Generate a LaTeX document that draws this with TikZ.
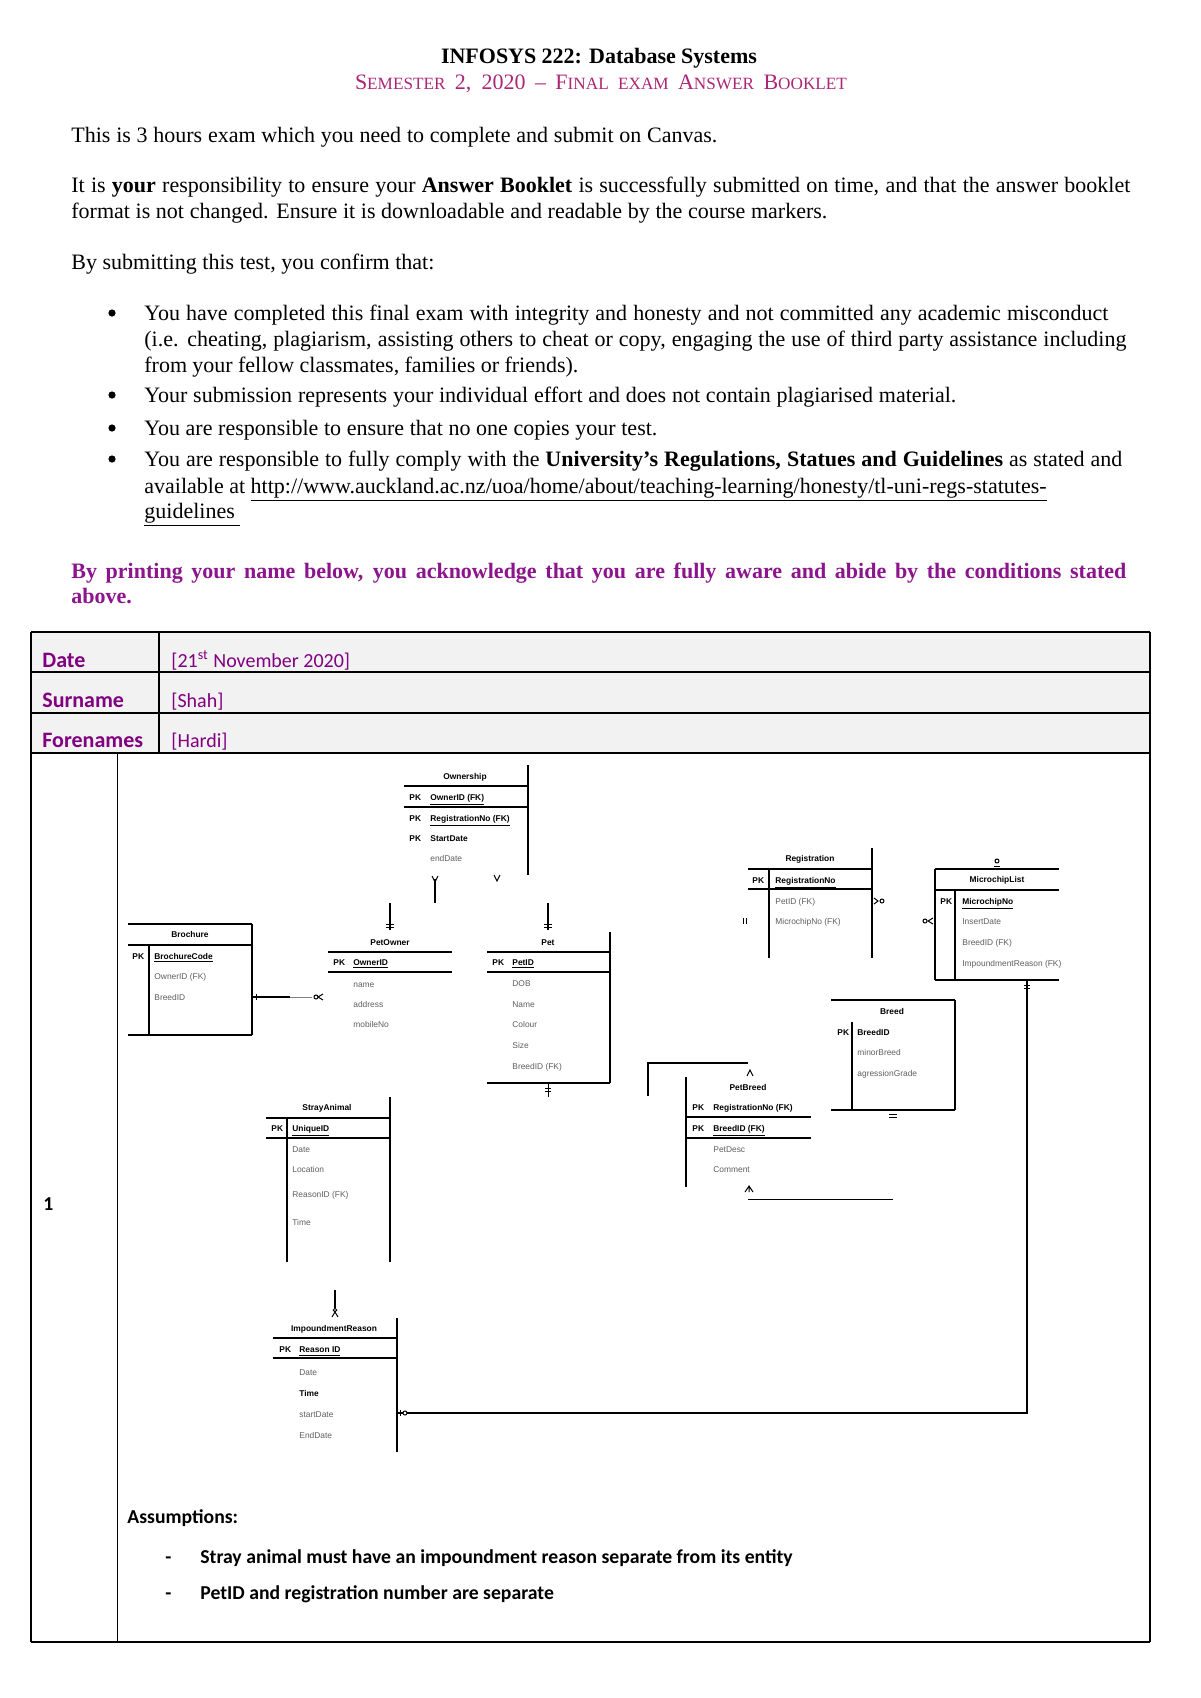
\documentclass[tikz,border=0pt]{standalone}
\usepackage{fontspec}
\setmainfont{Liberation Serif}
\newfontfamily\calfont{Carlito}
\newfontfamily\erfont{Liberation Sans}
\definecolor{subpink}{RGB}{172,38,118}
\definecolor{ackpurple}{RGB}{140,20,140}
\definecolor{lblpurple}{RGB}{128,0,128}
\definecolor{rowgray}{RGB}{242,242,242}
\definecolor{ergray}{RGB}{95,95,95}
\newcommand\jl[2]{\makebox[#1pt][s]{#2}}
\newcommand\fsc[2]{#1{\fontsize{8.6}{10}\selectfont #2}}
\begin{document}
\begin{tikzpicture}[x=0.5pt,y=-0.5pt,
  body/.style={anchor=base west, inner sep=0, font=\fontsize{11}{13}\selectfont},
  bul/.style={circle, fill=black, inner sep=0, minimum size=3.6pt},
  lbl/.style={anchor=base west, inner sep=0, text=lblpurple, font=\calfont\bfseries\fontsize{11}{13}\selectfont},
  val/.style={anchor=base west, inner sep=0, text=lblpurple, font=\calfont\fontsize{10}{12}\selectfont},
  asm/.style={anchor=base west, inner sep=0, font=\calfont\bfseries\fontsize{9.85}{12}\selectfont},
  erT/.style={anchor=base, inner sep=0, font=\erfont\bfseries\fontsize{4.2}{5}\selectfont},
  erP/.style={anchor=base west, inner sep=0, font=\erfont\bfseries\fontsize{4.2}{5}\selectfont},
  erF/.style={anchor=base west, inner sep=0, text=ergray, font=\erfont\fontsize{4.2}{5}\selectfont},
  ent/.style={line width=0.75pt},
  thin/.style={line width=0.5pt},
  tbl/.style={line width=1.3pt},
]
\useasboundingbox (0,0) rectangle (1200,1698);
\fill[white] (0,0) rectangle (1200,1698);

% ---------- header ----------
\node[anchor=base, inner sep=0, font=\bfseries\fontsize{11}{13}\selectfont] (title) at (599,63) {\jl{158}{INFOSYS 222: Database Systems}};
\node[anchor=base, inner sep=0, text=subpink, font=\fontsize{11}{13}\selectfont] (sub) at (601,89) {\jl{246}{\fsc{S}{EMESTER} 2, 2020 -- \fsc{F}{INAL} \fsc{}{EXAM} \fsc{A}{NSWER} \fsc{B}{OOKLET}}};

\node[body] (l1) at (71,142) {\jl{323}{This is 3 hours exam which you need to complete and submit on Canvas.}};
\node[body] (l2) at (71,192) {\jl{529.5}{It is \textbf{your} responsibility to ensure your \textbf{Answer Booklet} is successfully submitted on time, and that the answer booklet}};
\node[body] (l3) at (71,218) {\jl{378}{format is not changed. Ensure it is downloadable and readable by the course markers.}};
\node[body] (l4) at (71,269) {\jl{181.5}{By submitting this test, you confirm that:}};

\node[bul] (d1) at (112,313) {};
\node[bul] (d2) at (112,395) {};
\node[bul] (d3) at (112,428) {};
\node[bul] (d4) at (112,459) {};
\node[body] (b1a) at (144,320) {\jl{482}{You have completed this final exam with integrity and honesty and not committed any academic misconduct}};
\node[body] (b1b) at (144,346) {\jl{491}{(i.e. cheating, plagiarism, assisting others to cheat or copy, engaging the use of third party assistance including}};
\node[body] (b1c) at (144,372) {\jl{217}{from your fellow classmates, families or friends).}};
\node[body] (b2) at (144,402) {\jl{406}{Your submission represents your individual effort and does not contain plagiarised material.}};
\node[body] (b3) at (144,435) {\jl{256.5}{You are responsible to ensure that no one copies your test.}};
\node[body] (b4a) at (144,466) {\jl{489}{You are responsible to fully comply with the \textbf{University's Regulations, Statues and Guidelines} as stated and}};
\node[body] (b4b) at (144,493) {available at \underline{http://www.auckland.ac.nz/uoa/home/about/teaching-learning/honesty/tl-uni-regs-statutes-}};
\node[body] (b4c) at (144,518) {\underline{guidelines\ }};

\node[body, text=ackpurple, font=\bfseries\fontsize{11}{13}\selectfont] (p1) at (71,578) {\jl{527.5}{By printing your name below, you acknowledge that you are fully aware and abide by the conditions stated}};
\node[body, text=ackpurple, font=\bfseries\fontsize{11}{13}\selectfont] (p2) at (71,603) {above.};

% ---------- table ----------
\fill[rowgray] (31,632) rectangle (1150,753);
\draw[line width=0.7pt] (31,632) -- (31,1642);
\draw[line width=0.9pt] (1150,632) -- (1150,1642);
\draw[line width=1.1pt] (159,632) -- (159,753);
\draw[line width=0.5pt] (117,753) -- (117,1642);
\draw[tbl] (31,632) -- (1150,632);
\draw[tbl] (31,672) -- (1150,672);
\draw[tbl] (31,713) -- (1150,713);
\draw[tbl] (31,753) -- (1150,753);
\draw[tbl] (31,1642) -- (1150,1642);

\node[lbl] (tdate) at (42,667) {Date};
\node[lbl] (tsur) at (42,707) {Surname};
\node[lbl] (tfore) at (42,747) {Forenames};
\node[val] (vdate) at (171,667) {[21\textsuperscript{st} November 2020]};
\node[val] (vsur) at (171,707) {[Shah]};
\node[val] (vfore) at (171,747) {[Hardi]};
\node[asm] (qnum) at (43,1210) {1};

\node[asm] (asmh) at (127,1523) {Assumptions:};
\node[asm] (asd1) at (165,1563) {-};
\node[asm] (asd2) at (165,1599) {-};
\node[asm] (as1) at (200,1563) {Stray animal must have an impoundment reason separate from its entity};
\node[asm] (as2) at (200,1599) {PetID and registration number are separate};

% ---------- ER: Ownership ----------
\draw[ent] (528,765) -- (528,875);
\draw[ent] (404,786) -- (528,786);
\draw[ent] (404,807) -- (528,807);
\node[erT] (owT) at (465,779) {Ownership};
\node[erP] (owP1) at (409,800) {PK};
\node[erP] (owF1) at (430,800) {\underline{OwnerID (FK)}};
\node[erP] (owP2) at (409,821) {PK};
\node[erP] (owF2) at (430,821) {\underline{RegistrationNo (FK)}};
\node[erP] (owP3) at (409,841) {PK};
\node[erP] (owF3) at (430,841) {StartDate};
\node[erF] (owF4) at (430,861) {endDate};
\coordinate (owA) at (435,879);
\coordinate (owB) at (435,903);
\draw[ent] (owB) -- (owA);
\draw[thin] (432,876) -- (435,882) -- (438,876);
\draw[thin] (494,875) -- (497,881) -- (500,875);

% ---------- ER: PetOwner ----------
\coordinate (poA) at (390,903);
\coordinate (poB) at (390,930);
\draw[ent] (poA) -- (poB);
\draw[thin] (386,924) -- (394,924) (386,927) -- (394,927);
\node[erT] (poT) at (390,945) {PetOwner};
\draw[ent] (328,952) -- (452,952);
\draw[ent] (328,972) -- (452,972);
\node[erP] (poP) at (333,965) {PK};
\node[erP] (poF1) at (353,965) {\underline{OwnerID}};
\node[erF] (poF2) at (353,987) {name};
\node[erF] (poF3) at (353,1007) {address};
\node[erF] (poF4) at (353,1027) {mobileNo};

% ---------- ER: Pet ----------
\coordinate (ptA) at (548,903);
\coordinate (ptB) at (548,930);
\draw[ent] (ptA) -- (ptB);
\draw[thin] (544,924) -- (552,924) (544,927) -- (552,927);
\node[erT] (ptT) at (548,945) {Pet};
\draw[ent] (610,932) -- (610,1083);
\draw[ent] (487,952) -- (610,952);
\draw[ent] (487,972) -- (610,972);
\draw[ent] (487,1083) -- (610,1083);
\node[erP] (ptP) at (492,965) {PK};
\node[erP] (ptF1) at (512,965) {\underline{PetID}};
\node[erF] (ptF2) at (512,986) {DOB};
\node[erF] (ptF3) at (512,1007) {Name};
\node[erF] (ptF4) at (512,1027) {Colour};
\node[erF] (ptF5) at (512,1048) {Size};
\node[erF] (ptF6) at (512,1069) {BreedID (FK)};
\coordinate (ptC) at (548,1084);
\coordinate (ptD) at (548,1097);
\draw[thin] (ptC) -- (ptD);
\draw[thin] (545,1088) -- (551,1088) (545,1091) -- (551,1091);

% ---------- ER: Brochure ----------
\draw[ent] (128,924) -- (252,924);
\draw[ent] (128,945) -- (252,945);
\draw[ent] (149,945) -- (149,1035);
\draw[ent] (252,924) -- (252,1035);
\draw[ent] (128,1035) -- (252,1035);
\node[erT] (brT) at (190,937) {Brochure};
\node[erP] (brP) at (132,959) {PK};
\node[erP] (brF1) at (154,959) {\underline{BrochureCode}};
\node[erF] (brF2) at (154,979) {OwnerID (FK)};
\node[erF] (brF3) at (154,1000) {BreedID};
\coordinate (brA) at (252,997);
\coordinate (brB) at (290,997);
\coordinate (brC) at (312,997);
\draw[ent] (brA) -- (brB);
\draw[thin, gray] (brB) -- (brC);
\draw[thin] (256,994) -- (256,1000);
\draw[thin] (316,997) circle (2);
\draw[thin] (318,997) -- (323,994) (318,997) -- (323,1000);

% ---------- ER: Registration ----------
\node[erT] (rgT) at (810,861) {Registration};
\draw[ent] (872,848) -- (872,958);
\draw[ent] (748,869) -- (872,869);
\draw[ent] (748,889) -- (872,889);
\draw[ent] (769,869) -- (769,958);
\node[erP] (rgP) at (752,883) {PK};
\node[erP] (rgF1) at (775,883) {\underline{RegistrationNo}};
\node[erF] (rgF2) at (775,904) {PetID (FK)};
\node[erF] (rgF3) at (775,924) {MicrochipNo (FK)};
\draw[thin] (874,898) -- (878,901) -- (874,904);
\draw[thin] (882,901) circle (2);
\draw[thin] (743,918) -- (743,924) (746,918) -- (746,924);

% ---------- ER: MicrochipList ----------
\draw[ent] (935,869) -- (1059,869);
\draw[ent] (935,890) -- (1059,890);
\draw[ent] (935,869) -- (935,980);
\draw[ent] (955,890) -- (955,980);
\draw[ent] (935,980) -- (1059,980);
\node[erT] (mcT) at (997,882) {MicrochipList};
\node[erP] (mcP) at (940,904) {PK};
\node[erP] (mcF1) at (962,904) {\underline{MicrochipNo}};
\node[erF] (mcF2) at (962,924) {InsertDate};
\node[erF] (mcF3) at (962,945) {BreedID (FK)};
\node[erF] (mcF4) at (962,966) {ImpoundmentReason (FK)};
\draw[thin] (997,861) circle (2);
\draw[thin] (994,866) -- (1000,866);
\draw[thin] (925,921) circle (2);
\draw[thin] (933,918) -- (928,921) -- (933,924);
\coordinate (mcA) at (1027,980);
\coordinate (mcB) at (1027,1413);
\coordinate (irA) at (397,1413);
\draw[ent] (mcA) -- (mcB) -- (irA);
\draw[thin] (1024,985) -- (1030,985) (1024,988) -- (1030,988);

% ---------- ER: Breed ----------
\draw[ent] (831,1000) -- (955,1000);
\draw[ent] (955,1000) -- (955,1110);
\draw[ent] (852,1022) -- (852,1110);
\draw[ent] (831,1110) -- (955,1110);
\node[erT] (bdT) at (892,1014) {Breed};
\node[erP] (bdP) at (837,1035) {PK};
\node[erP] (bdF1) at (857,1035) {BreedID};
\node[erF] (bdF2) at (857,1055) {minorBreed};
\node[erF] (bdF3) at (857,1076) {agressionGrade};
\draw[thin] (889,1114) -- (897,1114) (889,1117) -- (897,1117);

% ---------- ER: PetBreed ----------
\draw[ent] (648,1096) -- (648,1063) -- (748,1063);
\draw[thin] (747,1076) -- (750,1070) -- (753,1076);
\node[erT] (pbT) at (748,1090) {PetBreed};
\draw[ent] (686,1077) -- (686,1187);
\draw[ent] (686,1117) -- (811,1117);
\draw[ent] (686,1138) -- (811,1138);
\node[erP] (pbP1) at (692,1110) {PK};
\node[erP] (pbF1) at (713,1110) {RegistrationNo (FK)};
\node[erP] (pbP2) at (692,1131) {PK};
\node[erP] (pbF2) at (713,1131) {\underline{BreedID (FK)}};
\node[erF] (pbF3) at (713,1152) {PetDesc};
\node[erF] (pbF4) at (713,1172) {Comment};
\draw[thin] (745,1192) -- (749,1186) -- (753,1192) (749,1186) -- (749,1192);
\draw[thin] (748,1199) -- (893,1199);

% ---------- ER: StrayAnimal ----------
\node[erT] (saT) at (327,1110) {StrayAnimal};
\draw[ent] (390,1097) -- (390,1262);
\draw[ent] (266,1118) -- (390,1118);
\draw[ent] (266,1138) -- (390,1138);
\draw[ent] (287,1118) -- (287,1262);
\node[erP] (saP) at (271,1131) {PK};
\node[erP] (saF1) at (292,1131) {\underline{UniqueID}};
\node[erF] (saF2) at (292,1152) {Date};
\node[erF] (saF3) at (292,1172) {Location};
\node[erF] (saF4) at (292,1197) {ReasonID (FK)};
\node[erF] (saF5) at (292,1225) {Time};

% ---------- ER: ImpoundmentReason ----------
\coordinate (saA) at (335,1290);
\coordinate (saB) at (335,1308);
\draw[ent] (saA) -- (saB);
\draw[thin] (335,1310) circle (1.8);
\draw[thin] (332,1317) -- (335,1312) -- (338,1317);
\node[erT] (irT) at (334,1331) {ImpoundmentReason};
\draw[ent] (397,1318) -- (397,1452);
\draw[ent] (273,1338) -- (397,1338);
\draw[ent] (273,1358) -- (397,1358);
\node[erP] (irP) at (279,1352) {PK};
\node[erP] (irF1) at (299,1352) {\underline{Reason ID}};
\node[erF] (irF2) at (299,1375) {Date};
\node[erP] (irF3) at (299,1396) {Time};
\node[erF] (irF4) at (299,1417) {startDate};
\node[erF] (irF5) at (299,1438) {EndDate};
\draw[thin] (400,1410) -- (400,1416);
\draw[thin, fill=white] (405,1413) circle (2);
\end{tikzpicture}
\end{document}
